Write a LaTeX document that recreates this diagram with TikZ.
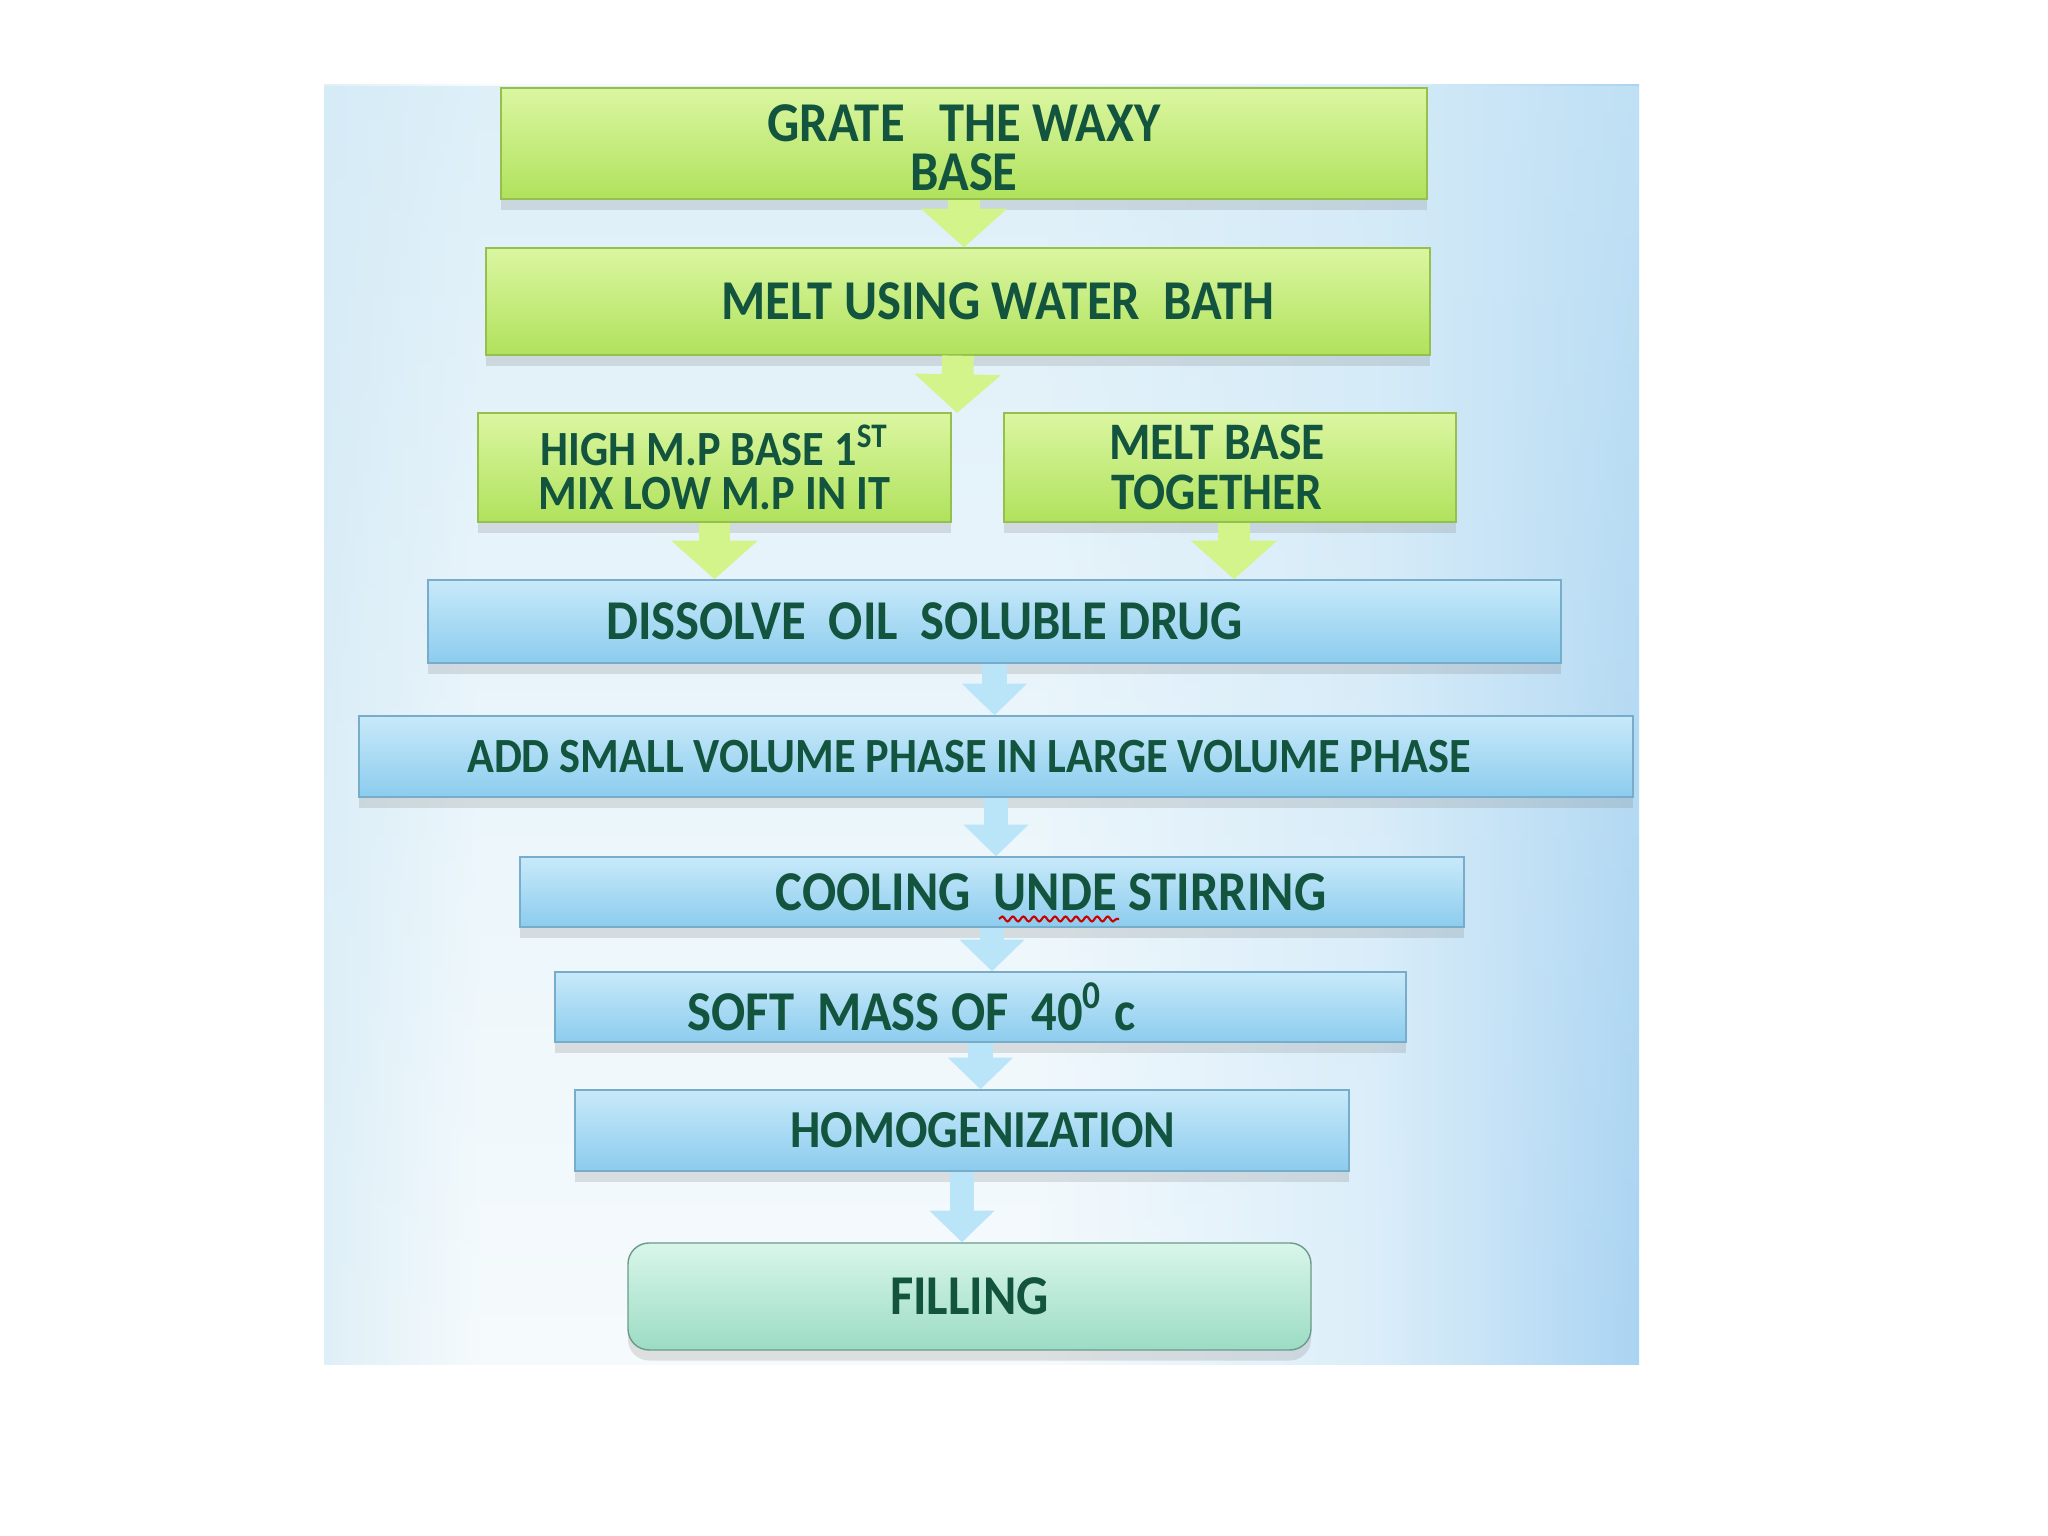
\documentclass[tikz,border=0pt]{standalone}
\usepackage{fontspec}
\setmainfont{Carlito}[FakeStretch=0.9]
\usetikzlibrary{arrows.meta, shadows, fadings, decorations.pathmorphing}
\definecolor{stepgreen}{RGB}{210,244,138}
\definecolor{stepgreendk}{RGB}{176,226,92}
\definecolor{stepblue}{RGB}{186,228,248}
\definecolor{stepbluedk}{RGB}{140,204,238}
\definecolor{fillmint}{RGB}{200,242,226}
\definecolor{fillmintdk}{RGB}{156,220,196}
\definecolor{textgreen}{RGB}{18,84,62}
\definecolor{bgleft}{RGB}{224,240,248}
\definecolor{bglight}{RGB}{246,251,253}
\definecolor{bgmid}{RGB}{220,238,250}
\definecolor{bgright}{RGB}{170,212,242}
\definecolor{bgtop}{RGB}{206,232,246}

\pgfdeclarehorizontalshading{panelshade}{100bp}{color(0bp)=(bgleft); color(25bp)=(bgleft); color(31bp)=(bglight); color(52bp)=(bglight); color(65bp)=(bgmid); color(75bp)=(bgright); color(100bp)=(bgright)}

\begin{document}
\begin{tikzpicture}[
    stepbox/.style={rectangle, align=center, text=textgreen, inner sep=2pt,
      font=\bfseries\fontsize{16}{14}\selectfont,
      drop shadow={opacity=0.22, shadow xshift=0pt, shadow yshift=-3pt}},
    smallfont/.style={font=\bfseries\fontsize{14}{12.5}\selectfont},
    greenbox/.style={stepbox, top color=stepgreen!80!white, bottom color=stepgreendk, draw=stepgreendk!85!black},
    bluebox/.style={stepbox, top color=stepblue!80!white, bottom color=stepbluedk, draw=stepbluedk!85!black},
    mintbox/.style={stepbox, rounded corners=6pt, top color=fillmint!70!white, bottom color=fillmintdk, draw=fillmintdk!70!black},
    greenarrow/.style={line width=9pt, draw=stepgreen, -{Triangle[length=11pt, width=24pt]}},
    bluearrow/.style={line width=7pt, draw=stepblue, -{Triangle[length=9pt, width=18pt]}}
  ]
  \useasboundingbox (0,0) rectangle (20.48,15.36);
  \fill[white] (0,0) rectangle (20.48,15.36);
  % background panel
  \shade[shading=panelshade] (3.24,14.51) rectangle (16.39,1.71);
  \fill[bgtop, path fading=south, opacity=0.6] (3.24,14.51) rectangle (16.39,1.71);

  % steps
  \node[greenbox, inner ysep=1pt, text depth=0pt, minimum width=9.26cm, minimum height=1.11cm] (grate) at (9.64,13.925) {\rule{0pt}{13pt}GRATE~~ THE WAXY\\BASE};
  \node[greenbox, minimum width=9.44cm, minimum height=1.07cm] (melt) at (9.58,12.345) {\hspace*{0.8cm}MELT USING WATER~ BATH};
  \node[greenbox, smallfont, minimum width=4.73cm, minimum height=1.09cm] (high) at (7.145,10.685) {HIGH M.P BASE 1\textsuperscript{ST}\\MIX LOW M.P IN IT};
  \node[greenbox, font=\bfseries\fontsize{15}{14}\selectfont, minimum width=4.52cm, minimum height=1.09cm] (meltbase) at (12.30,10.685) {MELT BASE\hspace*{0.26cm}\\TOGETHER\hspace*{0.26cm}};
  \node[bluebox, minimum width=11.33cm, minimum height=0.83cm] (dissolve) at (9.945,9.145) {DISSOLVE~ OIL~ SOLUBLE DRUG\hspace*{1.4cm}};
  \node[bluebox, smallfont, minimum width=12.74cm, minimum height=0.81cm] (addsmall) at (9.96,7.795) {ADD SMALL VOLUME PHASE IN LARGE VOLUME PHASE\hspace*{0.54cm}};
  \node[bluebox, minimum width=9.44cm, minimum height=0.70cm] (cooling) at (9.92,6.44) {\hspace*{1.18cm}COOLING~ UNDE STIRRING};
  \node[bluebox, minimum width=8.51cm, minimum height=0.70cm] (softmass) at (9.805,5.29) {SOFT~ MASS OF~ 40\textsuperscript{0} c\hspace*{1.38cm}};
  \node[bluebox, font=\bfseries\fontsize{15.2}{14}\selectfont, minimum width=7.74cm, minimum height=0.81cm] (homog) at (9.62,4.055) {\hspace*{0.42cm}HOMOGENIZATION};
  \node[mintbox, minimum width=6.83cm, minimum height=1.07cm] (filling) at (9.695,2.395) {FILLING};

  \coordinate (split) at (9.57,11.23);

  % flow arrows
  \draw[greenarrow] (grate.south) -- (grate.south |- melt.north);
  \draw[greenarrow] (melt.south) -- (split);
  \draw[greenarrow] (high.south) -- (high.south |- dissolve.north);
  \draw[greenarrow] ([xshift=0.04cm]meltbase.south) -- ([xshift=0.04cm]meltbase.south |- dissolve.north);
  \draw[bluearrow] (dissolve.south) -- (dissolve.south |- addsmall.north);
  \draw[bluearrow] (addsmall.south) -- (addsmall.south |- cooling.north);
  \draw[bluearrow] (cooling.south) -- (cooling.south |- softmass.north);
  \draw[bluearrow] (softmass.south) -- (softmass.south |- homog.north);
  \draw[bluearrow] (homog.south) -- (homog.south |- filling.north);

  % spell-check mark under UNDE
  \draw[red!80!black, line width=0.6pt, decorate, decoration={snake, amplitude=0.7pt, segment length=3pt}] (9.99,6.17) -- (11.19,6.17);
\end{tikzpicture}
\end{document}
